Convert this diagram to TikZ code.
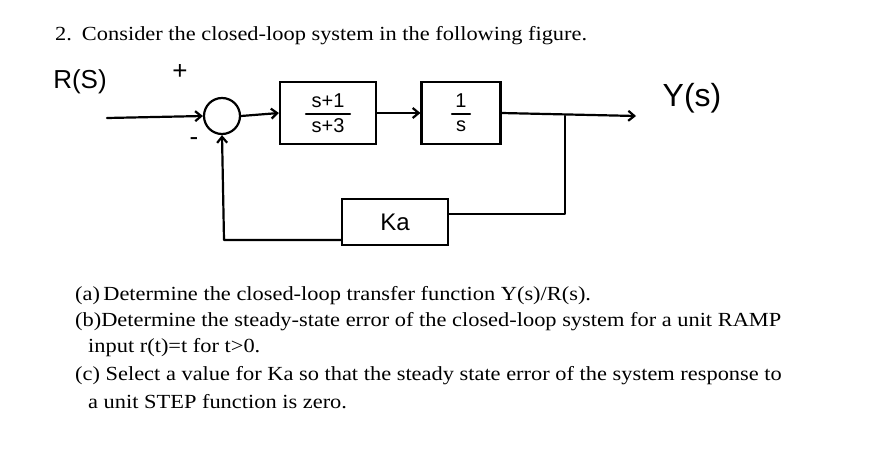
\documentclass[tikz,border=0pt]{standalone}
\usepackage{fontspec}
\setmainfont{Liberation Serif}[FakeStretch=1.12]
\newfontfamily\hand{Liberation Sans}
\usetikzlibrary{arrows.meta}
\begin{document}
\begin{tikzpicture}[x=1pt,y=-1pt,
  ln/.style={line width=2.2pt,line cap=round,line join=round},
  arr/.style={ln,-{Straight Barb[length=6pt,width=10pt]}},
  blk/.style={draw,line width=2.2pt,minimum height=62pt,inner sep=2pt},
  hw/.style={font=\hand\fontsize{26}{28}\selectfont},
  fr/.style={inner sep=1pt,font=\hand\fontsize{20}{22}\selectfont},
  txt/.style={anchor=base west,inner sep=0pt,font=\fontsize{20}{22}\selectfont}]
\useasboundingbox (0,0) rectangle (877,455);
\node[txt] (title) at (55,40) {2.\enspace Consider the closed-loop system in the following figure.};
\node[hw] (R) at (80,82) {R(S)};
\node[hw] (plus) at (180,72) {+};
\node[hw] (minus) at (194,142) {-};
\coordinate (in) at (107,118);
\node[draw,circle,line width=2.2pt,minimum size=36pt,inner sep=0pt] (sum) at (222,116) {};
\node[blk,minimum width=96pt] (g1) at (328,113) {};
\node[fr] (n1) at (328,101) {s+1};
\node[fr] (d1) at (328,126) {s+3};
\draw[ln] (306,114) -- (350,114);
\node[blk,minimum width=79pt] (g2) at (461,113) {};
\node[fr] (n2) at (461,101) {1};
\node[fr] (d2) at (461,126) {s};
\draw[ln] (452,114) -- (470,114);
\coordinate (out) at (636,116);
\node[hw,font=\hand\fontsize{32}{34}\selectfont] (Y) at (692,98) {Y(s)};
\coordinate (br) at (565,116);
\node[blk,minimum width=106pt,minimum height=46pt] (ka) at (395,222) {\hand\fontsize{24}{26}\selectfont Ka};
\coordinate (fr) at (565,214);
\coordinate (fl) at (224,240);
\draw[arr] (in) -- (sum.west);
\draw[arr] (sum.east) -- (g1.west);
\draw[arr] (g1.east) -- (g2.west);
\draw[arr] (g2.east) -- (out);
\draw[ln] (br) -- (fr) -- (ka.east |- fr) ;
\draw[arr] (ka.west |- fl) -- (fl) -- (sum.south);
\node[txt] (a) at (75,300) {(a)\,Determine the closed-loop transfer function Y(s)/R(s).};
\node[txt] (b) at (75,326) {(b)Determine the steady-state error of the closed-loop system for a unit RAMP};
\node[txt] (b2) at (88,352) {input r(t)=t for t>0.};
\node[txt] (c) at (75,380) {(c) Select a value for Ka so that the steady state error of the system response to};
\node[txt] (c2) at (88,408) {a unit STEP function is zero.};
\end{tikzpicture}
\end{document}
